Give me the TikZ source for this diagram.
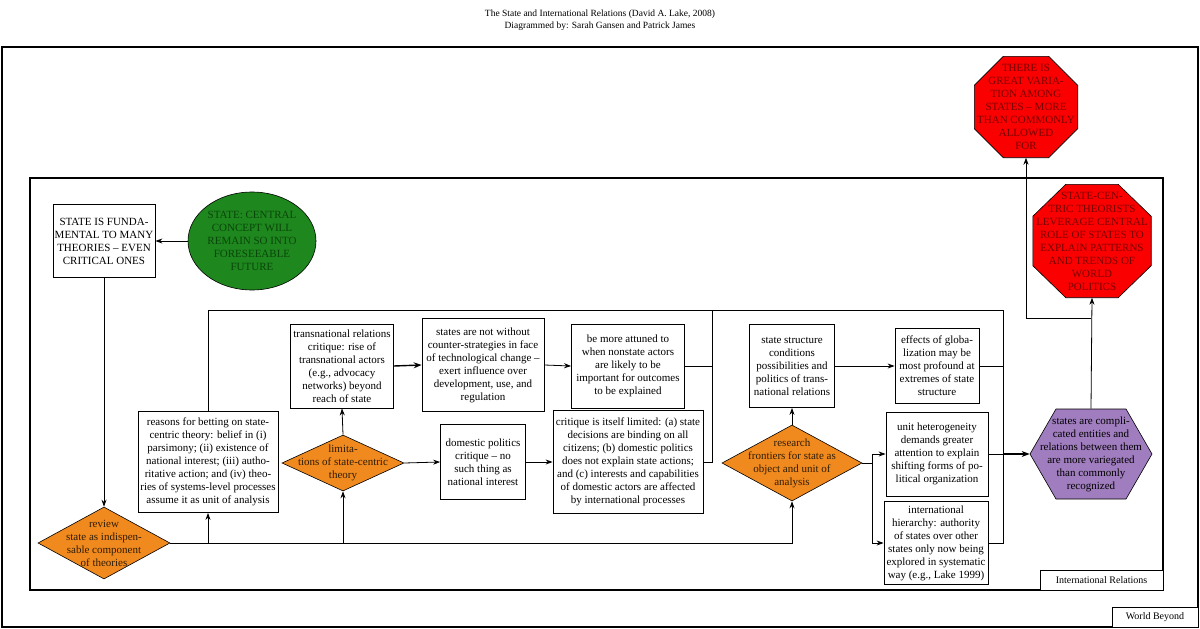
\documentclass[tikz,border=0pt]{standalone}
\usepackage{fontspec}
\setmainfont{Liberation Serif}
\usetikzlibrary{shapes.geometric,shapes.symbols,arrows.meta,calc}
\definecolor{org}{RGB}{240,138,30}
\definecolor{grn}{RGB}{30,135,30}
\definecolor{dgrn}{RGB}{10,70,10}
\definecolor{rd}{RGB}{250,0,0}
\definecolor{drd}{RGB}{120,0,0}
\definecolor{prp}{RGB}{160,125,190}
\begin{document}
\begin{tikzpicture}[x=1pt,y=-1pt,
  every node/.style={font=\fontsize{11}{13}\selectfont},
  box/.style={draw,line width=0.8pt,fill=white,align=center,inner sep=1pt},
  dia/.style={diamond,draw,line width=0.6pt,fill=org,inner sep=0pt},
  txt/.style={align=center,inner sep=0pt},
  lab/.style={draw,line width=1pt,fill=white,inner sep=0pt,font=\fontsize{10}{12}\selectfont},
  ln/.style={line width=0.8pt},
  ar/.style={line width=0.8pt,-{Stealth[length=7pt,width=5pt]}},
  tar/.style={line width=1.4pt,-{Stealth[length=8pt,width=6pt]}}]
\useasboundingbox (0,0) rectangle (1200,629);
\node[txt,font=\fontsize{9.5}{12}\selectfont] (title) at (600,20) {The State and International Relations (David A. Lake, 2008)\\Diagrammed by: Sarah Gansen and Patrick James};
% frames
\draw[line width=1.2pt] (2,47) rectangle (1198,627);
\node[lab,minimum width=86,minimum height=20] (wb) at (1155,617) {World Beyond};
\draw[line width=1.4pt] (30,178) rectangle (1163,590);
\node[lab,minimum width=123,minimum height=20] (ir) at (1101.5,580) {International Relations};
% nodes
\node[box,minimum width=102,minimum height=73] (sf) at (104,241) {STATE IS FUNDA-\\MENTAL TO MANY\\THEORIES -- EVEN\\CRITICAL ONES};
\node[ellipse,draw,line width=0.6pt,fill=grn,minimum width=128,minimum height=98,inner sep=0] (el) at (252,241) {};
\node[txt,text=dgrn] (elt) at (el) {STATE: CENTRAL\\CONCEPT WILL\\REMAIN SO INTO\\FORESEEABLE\\FUTURE};
\node[dia,minimum width=132,minimum height=72] (rev) at (104,543) {};
\node[txt,text=black!80!org] (revt) at (rev) {review\\state as indispen-\\sable component\\of theories};
\node[box,minimum width=140,minimum height=101] (rea) at (208,462) {reasons for betting on state-\\centric theory: belief in (i)\\parsimony; (ii) existence of\\national interest; (iii) autho-\\ritative action; and (iv) theo-\\ries of systems-level processes\\assume it as unit of analysis};
\node[dia,minimum width=122,minimum height=56] (lim) at (343,463) {};
\node[txt,text=black!80!org] (limt) at (lim) {limita-\\tions of state-centric\\theory};
\node[box,minimum width=103,minimum height=84] (tr) at (342,366) {transnational relations\\critique: rise of\\transnational actors\\(e.g., advocacy\\networks) beyond\\reach of state};
\node[box,minimum width=122,minimum height=93] (sn) at (483,365) {states are not without\\counter-strategies in face\\of technological change --\\exert influence over\\development, use, and\\regulation};
\node[box,minimum width=113,minimum height=84] (at) at (628,366) {be more attuned to\\when nonstate actors\\are likely to be\\important for outcomes\\to be explained};
\node[box,minimum width=85,minimum height=75] (dp) at (483,462) {domestic politics\\critique -- no\\such thing as\\national interest};
\node[box,minimum width=150,minimum height=103] (cr) at (628,462) {critique is itself limited: (a) state\\decisions are binding on all\\citizens; (b) domestic politics\\does not explain state actions;\\and (c) interests and capabilities\\of domestic actors are affected\\by international processes};
\node[dia,minimum width=140,minimum height=76] (rf) at (792,463) {};
\node[txt,text=black!80!org] (rft) at (rf) {research\\frontiers for state as\\object and unit of\\analysis};
\node[box,minimum width=85,minimum height=83] (ss) at (792,366) {state structure\\conditions\\possibilities and\\politics of trans-\\national relations};
\node[box,minimum width=84,minimum height=75] (ef) at (937,366) {effects of globa-\\lization may be\\most profound at\\extremes of state\\structure};
\node[box,minimum width=102,minimum height=84] (uh) at (937,454) {unit heterogeneity\\demands greater\\attention to explain\\shifting forms of po-\\litical organization};
\node[box,minimum width=104,minimum height=83] (ih) at (936,543) {international\\hierarchy: authority\\of states over other\\states only now being\\explored in systematic\\way (e.g., Lake 1999)};
\node[signal,signal to=west and east,signal pointer angle=120,draw,line width=0.6pt,fill=prp,minimum width=122,minimum height=90,inner sep=0] (hx) at (1091,454) {};
\node[txt] (hxt) at (hx) {states are compli-\\cated entities and\\relations between them\\are more variegated\\than commonly\\recognized};
\node[minimum width=118,minimum height=113,inner sep=0] (o2) at (1092,241) {};
\filldraw[fill=rd,line width=0.6pt] ($(o2.north west)+(33,0)$) -- ($(o2.north east)+(-33,0)$) -- ($(o2.north east)+(0,32)$) -- ($(o2.south east)+(0,-32)$) -- ($(o2.south east)+(-33,0)$) -- ($(o2.south west)+(33,0)$) -- ($(o2.south west)+(0,-32)$) -- ($(o2.north west)+(0,32)$) -- cycle;
\node[txt,text=drd] (o2t) at (o2) {STATE-CEN-\\TRIC THEORISTS\\LEVERAGE CENTRAL\\ROLE OF STATES TO\\EXPLAIN PATTERNS\\AND TRENDS OF\\WORLD\\POLITICS};
\node[minimum width=103,minimum height=101,inner sep=0] (o1) at (1026,107) {};
\filldraw[fill=rd,line width=0.6pt] ($(o1.north west)+(29,0)$) -- ($(o1.north east)+(-29,0)$) -- ($(o1.north east)+(0,29)$) -- ($(o1.south east)+(0,-29)$) -- ($(o1.south east)+(-29,0)$) -- ($(o1.south west)+(29,0)$) -- ($(o1.south west)+(0,-29)$) -- ($(o1.north west)+(0,29)$) -- cycle;
\node[txt,text=drd] (o1t) at (o1) {THERE IS\\GREAT VARIA-\\TION AMONG\\STATES -- MORE\\THAN COMMONLY\\ALLOWED\\FOR};
% connectors
\draw[ar] (el.west) -- (sf.east);
\draw[ar] (sf.south) -- (rev.north);
\draw[ar] (rev.east) -| (rf.south);
\draw[ar] (rev.east -| rea.south) -- (rea.south);
\draw[ar] (rev.east -| lim.south) -- (lim.south);
\draw[ar] (lim.north) -- (tr.south);
\draw[tar] (tr.east) -- (sn.west);
\draw[ar] (sn.east) -- (at.west);
\draw[ar] (lim.east) -- (dp.west);
\draw[ar] (dp.east) -- (cr.west);
\coordinate (c1) at (712,310);
\coordinate (c2) at (1003,310);
\draw[ln] (rea.north) |- (c2) -- (ih.east -| c2) -- (ih.east);
\draw[ln] (c1) -- (cr.east -| c1) -- (cr.east);
\draw[ln] (at.east) -- (at.east -| c1);
\draw[ln] (ef.east) -- (ef.east -| c2);
\draw[ar] (rf.north) -- (ss.south);
\draw[ar] (ss.east) -- (ef.west);
\coordinate (c3) at (872,463);
\draw[ln] (rf.east) -- (c3);
\draw[ar] (c3) |- (uh.west);
\draw[ar] (c3) |- (ih.west);
\draw[ln] (uh.east) -- (uh.east -| c2);
\draw[tar] (uh.east -| c2) -- (hx.west);
\draw[ar] (hx.north) -- (o2.south);
\coordinate (c4) at (1091,318);
\draw[ar] (c4) -| (o1.south);
\end{tikzpicture}
\end{document}
